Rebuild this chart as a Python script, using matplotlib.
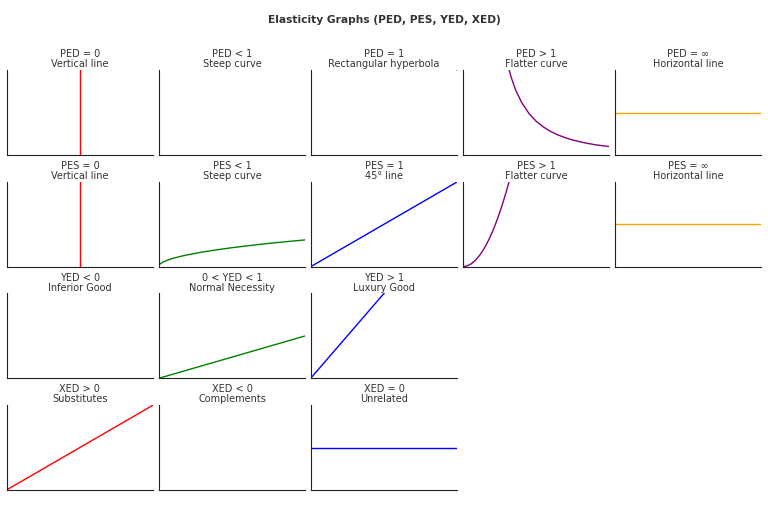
import matplotlib
matplotlib.use("Agg")
from matplotlib import pyplot as plt

# Panel titles (row by row, None = hidden panel)
titles = [
    "PED = 0\nVertical line", "PED < 1\nSteep curve", "PED = 1\nRectangular hyperbola",
    "PED > 1\nFlatter curve", "PED = \u221e\nHorizontal line",
    "PES = 0\nVertical line", "PES < 1\nSteep curve", "PES = 1\n45\u00b0 line",
    "PES > 1\nFlatter curve", "PES = \u221e\nHorizontal line",
    "YED < 0\nInferior Good", "0 < YED < 1\nNormal Necessity", "YED > 1\nLuxury Good", None, None,
    "XED > 0\nSubstitutes", "XED < 0\nComplements", "XED = 0\nUnrelated", None, None,
]

# curve points (axes run 0..10 both ways)
ped0_x = [5, 5]
ped0_y = [0, 10]
ped_lt1_x = [1, 3, 5, 7, 10]
ped_lt1_y = [100, 57.7, 44.7, 37.8, 31.6]
ped1_x = [9.5, 10]
ped1_y = [10.5, 10]
ped_gt1_x = [3.1, 3.3, 3.6, 4.0, 4.5, 5.0, 5.5, 6.0, 6.5, 7.0, 7.5, 8.0, 8.5, 9.0, 9.5, 10.0]
ped_gt1_y = [10.4, 9.2, 7.7, 6.25, 4.94, 4.0, 3.31, 2.78, 2.37, 2.04, 1.78, 1.56, 1.38, 1.23, 1.11, 1.0]
ped_inf_x = [0, 10]
ped_inf_y = [5, 5]

pes0_x = [5, 5]
pes0_y = [0, 10]
pes_lt1_x = [0.1, 0.3, 0.6, 1, 1.5, 2, 3, 4, 5, 6, 7, 8, 9, 10]
pes_lt1_y = [0.32, 0.55, 0.77, 1.0, 1.22, 1.41, 1.73, 2.0, 2.24, 2.45, 2.65, 2.83, 3.0, 3.16]
pes1_x = [0, 10]
pes1_y = [0, 10]
pes_gt1_x = [0, 0.3, 0.6, 0.9, 1.2, 1.5, 1.8, 2.1, 2.4, 2.7, 3.0, 3.3]
pes_gt1_y = [0, 0.09, 0.36, 0.81, 1.44, 2.25, 3.24, 4.41, 5.76, 7.29, 9.0, 10.9]
pes_inf_x = [0, 10]
pes_inf_y = [5, 5]

yed_neg_x = [0.1, 10]
yed_neg_y = [-0.1, -10]
yed_nec_x = [0, 10]
yed_nec_y = [0, 5]
yed_lux_x = [0, 5.5]
yed_lux_y = [0, 11]

xed_pos_x = [0, 10]
xed_pos_y = [0, 10]
xed_neg_x = [0.1, 10]
xed_neg_y = [-0.1, -10]
xed_zero_x = [0, 10]
xed_zero_y = [5, 5]

series = [
    (ped0_x, ped0_y, "red"), (ped_lt1_x, ped_lt1_y, "green"), (ped1_x, ped1_y, "blue"),
    (ped_gt1_x, ped_gt1_y, "purple"), (ped_inf_x, ped_inf_y, "orange"),
    (pes0_x, pes0_y, "red"), (pes_lt1_x, pes_lt1_y, "green"), (pes1_x, pes1_y, "blue"),
    (pes_gt1_x, pes_gt1_y, "purple"), (pes_inf_x, pes_inf_y, "orange"),
    (yed_neg_x, yed_neg_y, "red"), (yed_nec_x, yed_nec_y, "green"), (yed_lux_x, yed_lux_y, "blue"),
    None, None,
    (xed_pos_x, xed_pos_y, "red"), (xed_neg_x, xed_neg_y, "green"), (xed_zero_x, xed_zero_y, "blue"),
    None, None,
]

text_col = "#333333"

fig, axes = plt.subplots(4, 5, figsize=(7.68, 5.12), dpi=100)
fig.subplots_adjust(left=0.0085, right=0.9915, top=0.863, bottom=0.043,
                    wspace=0.036, hspace=0.314)

for ax, title, s in zip(axes.flat, titles, series):
    if s is None:
        ax.axis("off")
        continue
    ax.plot(s[0], s[1], color=s[2], linewidth=1)
    ax.set_xlim(0, 10)
    ax.set_ylim(0, 10)
    ax.set_title(title, fontsize=7, pad=2, linespacing=1.0, color=text_col)
    ax.set_xticks([]), ax.set_yticks([])
    ax.spines["top"].set_visible(False)
    ax.spines["right"].set_visible(False)
    ax.spines["left"].set_color("#222222")
    ax.spines["bottom"].set_color("#222222")

fig.suptitle("Elasticity Graphs (PED, PES, YED, XED)", fontsize=7.7, fontweight="bold",
             y=0.97, color=text_col)

plt.savefig("out.png")
